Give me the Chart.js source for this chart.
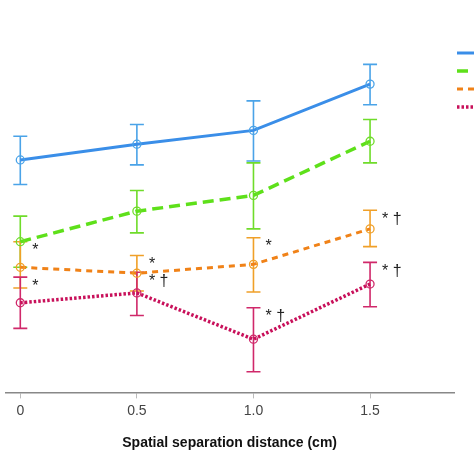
<!DOCTYPE html>
<html><head><meta charset="utf-8">
<script src="https://cdn.jsdelivr.net/npm/chart.js@4"></script>
<style>html,body{margin:0;padding:0;background:#fff}#w{width:474px;height:474px}</style>
</head><body><div id="w"><canvas id="c"></canvas></div>
<script>
const distances = [0, 0.5, 1.0, 1.5];
const tickLabels = {0:'0',0.5:'0.5',1:'1.0',1.5:'1.5'};
const blueMean = [243, 259, 273, 320];
const blueLo = [218, 238, 242, 299];
const blueHi = [267, 279, 303, 340];
const greenMean = [160, 191, 207, 262];
const greenLo = [134, 169, 173, 240];
const greenHi = [186, 212, 240, 284];
const orangeMean = [134, 128, 137, 173];
const orangeLo = [113, 110, 109, 155];
const orangeHi = [160, 146, 164, 192];
const redMean = [98, 108, 61, 117];
const redLo = [72, 85, 28, 94];
const redHi = [124, 129, 93, 139];
const orangeNotes = ['*', '*', '*', '* †'];
const redNotes = ['*', '* †', '* †', '* †'];

function ds(mean, lo, hi, color, errColor, dash, width, notes){
  return {data: distances.map((x,i)=>({x, y: mean[i]})), lo, hi, notes, errColor,
    borderColor: color, borderDash: dash, borderWidth: width, pointRadius: 4,
    pointBorderWidth: 1.3, pointBorderColor: errColor, pointBackgroundColor: 'rgba(255,255,255,0)',
    fill: false, tension: 0};
}
const datasets = [
  ds(blueMean, blueLo, blueHi, '#3a8ee8', '#4aa3e8', [], 3, null),
  ds(greenMean, greenLo, greenHi, '#5ee01a', '#6fdc2a', [11,6], 3.5, null),
  ds(orangeMean, orangeLo, orangeHi, '#f08218', '#f0a028', [6,5], 3, orangeNotes),
  ds(redMean, redLo, redHi, '#c8105a', '#d0286a', [2.5,2], 3.5, redNotes)
];
const extras = {
  id: 'extras',
  beforeDatasetsDraw(chart){
    const {ctx, scales:{x, y}} = chart;
    chart.data.datasets.forEach(d=>{
      ctx.save(); ctx.strokeStyle = d.errColor; ctx.lineWidth = 1.6;
      d.data.forEach((p,i)=>{
        const px = x.getPixelForValue(p.x), t = y.getPixelForValue(d.hi[i]), b = y.getPixelForValue(d.lo[i]);
        ctx.beginPath(); ctx.moveTo(px,t); ctx.lineTo(px,b);
        ctx.moveTo(px-7,t); ctx.lineTo(px+7,t); ctx.moveTo(px-7,b); ctx.lineTo(px+7,b); ctx.stroke();
      });
      ctx.restore();
    });
  },
  afterDraw(chart){
    const {ctx, scales:{x, y}} = chart;
    ctx.save(); ctx.fillStyle = '#222'; ctx.font = '16px "Liberation Sans", Arial'; ctx.textBaseline = 'middle';
    chart.data.datasets.forEach(d=>{
      if(!d.notes) return;
      d.data.forEach((p,i)=>{
        ctx.fillText(d.notes[i], x.getPixelForValue(p.x)+12, y.getPixelForValue(d.hi[i]) + 9);
      });
    });
    chart.data.datasets.forEach((d,i)=>{
      ctx.beginPath(); ctx.strokeStyle = d.borderColor; ctx.lineWidth = d.borderWidth;
      ctx.setLineDash(d.borderDash); const ly = 53 + i*18;
      ctx.moveTo(457, ly); ctx.lineTo(476, ly); ctx.stroke();
    });
    ctx.restore();
  }
};
new Chart(document.getElementById('c'), {
  type: 'line',
  data: {datasets},
  plugins: [extras],
  options: {
    responsive: true, maintainAspectRatio: false, animation: false,
    layout: {padding: {top: 0, right: 20, left: 0, bottom: 18}},
    plugins: {legend: {display: false}, tooltip: {enabled: false}},
    scales: {
      x: {type: 'linear', min: -0.0643, max: 1.86,
        afterBuildTicks(s){ s.ticks = distances.map(v=>({value: v})); },
        grid: {display: true, drawOnChartArea: false, tickLength: 6, color: '#bbb'},
        border: {color: '#888', width: 1.5},
        ticks: {color: '#444', font: {size: 14, family: '"Liberation Sans", Arial'}, padding: 4,
          callback: v => tickLabels[v]},
        title: {display: true, text: 'Spatial separation distance (cm)', color: '#111',
          font: {size: 14, weight: 'bold', family: '"Liberation Sans", Arial'}, padding: {top: 12}}
      },
      y: {display: false, min: 7, max: 400}
    }
  }
});
</script></body></html>
